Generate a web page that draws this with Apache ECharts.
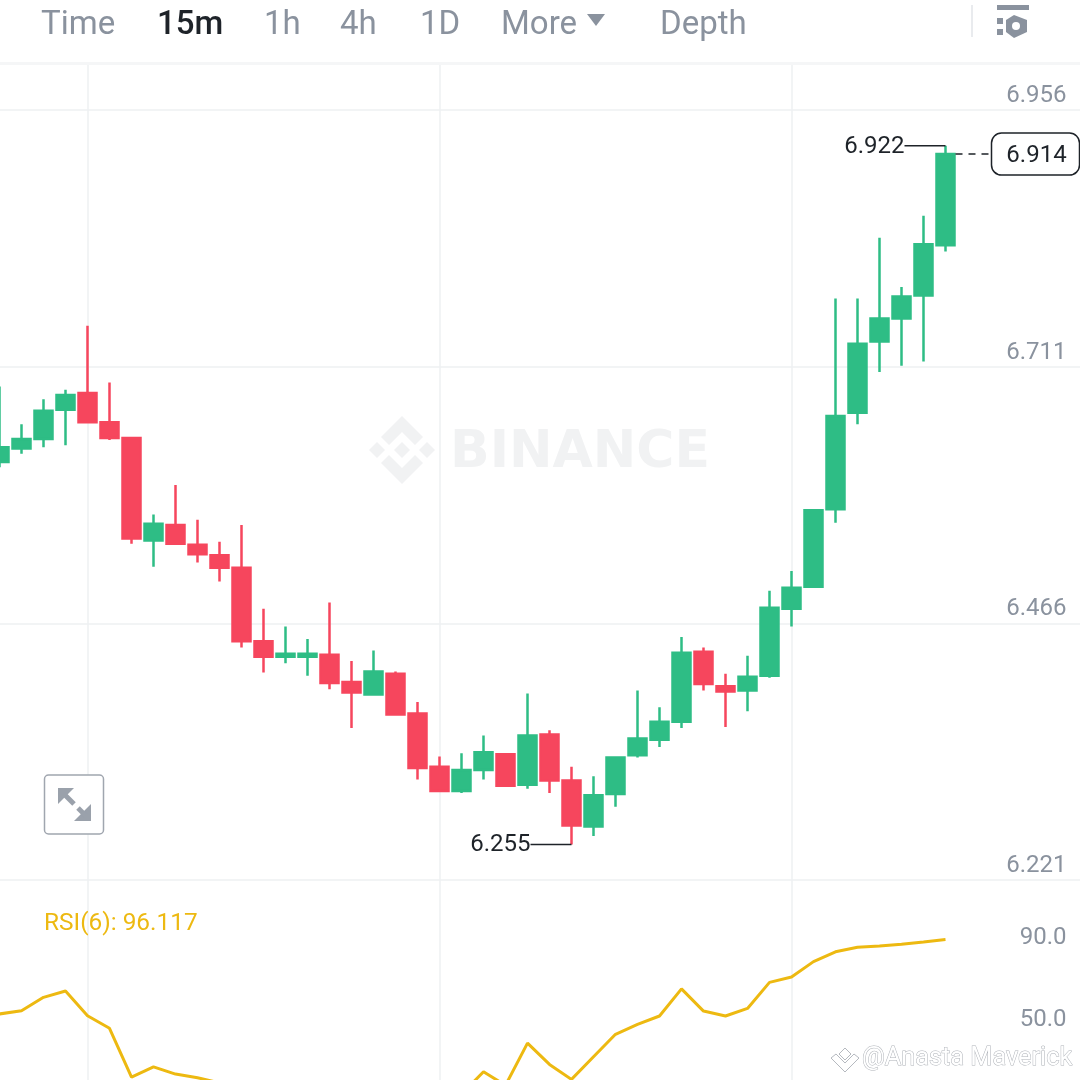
<!DOCTYPE html>
<html>
<head>
<meta charset="utf-8">
<title>15m chart</title>
<style>
  html, body { margin: 0; padding: 0; background: #fff; }
  #chart { width: 1080px; height: 1080px; }
</style>
<script src="https://cdn.jsdelivr.net/npm/echarts@6/dist/echarts.min.js"></script>
</head>
<body>
<div id="chart"></div>
<script>
// candles, left to right
const opens  = [6.620,6.633,6.642,6.670,6.686,6.658,6.643,6.545,6.560,6.541,6.531,6.519,6.449,6.434,6.434,6.436,6.410,6.398,6.418,6.380,6.329,6.306,6.326,6.341,6.312,6.360,6.316,6.272,6.303,6.340,6.355,6.372,6.439,6.406,6.402,6.416,6.480,6.501,6.575,6.667,6.735,6.757,6.779,6.827];
const closes = [6.634,6.642,6.669,6.684,6.658,6.643,6.547,6.561,6.542,6.532,6.519,6.449,6.434,6.437,6.437,6.409,6.400,6.420,6.379,6.328,6.306,6.326,6.343,6.311,6.359,6.316,6.273,6.302,6.338,6.356,6.372,6.438,6.408,6.401,6.415,6.481,6.500,6.574,6.664,6.733,6.757,6.778,6.828,6.914];
const lows   = [6.615,6.628,6.634,6.636,6.657,6.641,6.542,6.520,6.542,6.524,6.506,6.443,6.419,6.428,6.416,6.403,6.366,6.397,6.378,6.317,6.305,6.304,6.317,6.311,6.308,6.304,6.255,6.263,6.291,6.338,6.348,6.366,6.402,6.367,6.382,6.414,6.463,6.501,6.562,6.656,6.706,6.712,6.716,6.821];
const highs  = [6.692,6.656,6.680,6.689,6.750,6.696,6.644,6.570,6.598,6.565,6.544,6.560,6.480,6.463,6.451,6.486,6.430,6.440,6.420,6.391,6.339,6.342,6.359,6.342,6.399,6.364,6.329,6.320,6.338,6.402,6.386,6.453,6.443,6.418,6.435,6.497,6.516,6.574,6.776,6.776,6.834,6.787,6.855,6.922];
// RSI(6), the stretch that runs below the frame is a guess
const rsiValues = [59.8,61.4,67.9,71.0,58.9,52.8,29.0,34.0,30.5,28.7,26.2,18,17,19,19,16,15,20,18,14,13,20.7,31.6,25,45.6,35.2,27.9,38.9,49.9,54.7,58.8,72.0,61.2,58.8,62.5,75.2,77.8,85.3,90.1,92.3,92.9,93.8,94.9,96.1];

const priceTicks = [6.221, 6.466, 6.711, 6.956];
const rsiTicks = [50, 90];
// [candle index, price]
const highLowMarks = [[43, 6.922], [26, 6.255]];
const lastPrice = [[43, 6.914]];

const intervals = ['Time', '15m', '1h', '4h', '1D', 'More', 'Depth'];
const intervalX = [41, 157, 264, 340, 420, 501, 660];

// 44 candles plus empty room on the right
const categories = [];
for (let i = 0; i < 51; i++) {
  categories.push(String(i));
}
const candleData = opens.map((o, i) => [o, closes[i], lows[i], highs[i]]);

const UP = '#2EBD85', DOWN = '#F6465D', GRID = '#EEF0F2', LABEL = '#8A929E', DARK = '#1E2329', RSI = '#EDB911';
const FONT = 'Roboto';

function labelAxis(ticks, min, max, gridIndex) {
  return {
    type: 'value', gridIndex, min, max, position: 'right', scale: true,
    axisLine: { show: false },
    axisTick: { show: false, customValues: ticks },
    splitLine: { show: gridIndex === 0, lineStyle: { color: GRID, width: 1.5 } },
    axisLabel: {
      inside: true, margin: 33, color: LABEL, fontSize: 24, fontFamily: FONT,
      verticalAlign: 'bottom', padding: [0, 0, 2, 0], customValues: ticks,
      formatter: gridIndex === 0 ? (v) => v.toFixed(3) : (v) => v.toFixed(1)
    }
  };
}

function timeAxis(gridIndex) {
  return {
    type: 'category', gridIndex, data: categories, boundaryGap: false,
    axisLine: { show: false }, axisTick: { show: false }, axisLabel: { show: false },
    splitLine: {
      show: true, interval: (i) => (i - 4) % 16 === 0,
      lineStyle: { color: GRID, width: 1.5 }
    }
  };
}

function renderMarks(params, api) {
  const p = api.coord([api.value(0), api.value(1)]);
  return {
    type: 'group',
    children: [
      { type: 'line', shape: { x1: p[0] - 41, y1: p[1], x2: p[0], y2: p[1] }, style: { stroke: DARK, lineWidth: 1.5 } },
      { type: 'text', style: { x: p[0] - 41, y: p[1] + 1, text: api.value(1).toFixed(3), fill: DARK, font: '24px ' + FONT, textAlign: 'right', textVerticalAlign: 'middle' } }
    ]
  };
}

function renderLast(params, api) {
  const p = api.coord([api.value(0), api.value(1)]);
  return {
    type: 'group',
    children: [
      { type: 'line', shape: { x1: p[0] + 10, y1: p[1], x2: p[0] + 45, y2: p[1] }, style: { stroke: DARK, lineWidth: 1.5, lineDash: [7, 6] } },
      { type: 'rect', shape: { x: p[0] + 46, y: p[1] - 21, width: 88, height: 42, r: 10 }, style: { fill: '#fff', stroke: DARK, lineWidth: 1.5 } },
      { type: 'text', style: { x: p[0] + 91, y: p[1] + 2, text: api.value(1).toFixed(3), fill: DARK, font: '24px ' + FONT, textAlign: 'center', textVerticalAlign: 'middle' } }
    ]
  };
}

// header, watermark and buttons are page furniture, not data
const furniture = [];
intervals.forEach((t, i) => {
  furniture.push({
    type: 'text', z: 10, x: intervalX[i], y: 26,
    style: { text: t, fill: t === '15m' ? DARK : LABEL, font: (t === '15m' ? '500 ' : '') + '33px ' + FONT, textVerticalAlign: 'middle' }
  });
});
function poly(points, style, z) {
  return { type: 'polygon', z: z, shape: { points }, style };
}
function box(x, y, width, height, fill) {
  return { type: 'rect', z: 10, shape: { x, y, width, height }, style: { fill } };
}
const logoFill = { fill: '#F1F2F3' };
furniture.push(
  poly([[587, 14], [605, 14], [596, 26]], { fill: LABEL }, 10),
  box(0, 62, 1080, 3, '#F5F6F7'),
  box(971, 5, 2, 32, '#E9EBEE'),
  box(997, 5, 32, 5, '#8A929E'),
  box(997, 18, 6, 6, '#8A929E'),
  box(997, 29, 6, 6, '#8A929E'),
  poly([[1014, 15], [1027, 20], [1027, 32], [1014, 38], [1006, 32], [1006, 20]], { fill: '#8A929E' }, 10),
  { type: 'circle', z: 11, shape: { cx: 1016, cy: 26, r: 4 }, style: { fill: '#fff' } },
  // faint logo behind the candles
  poly([[402, 416], [423, 437], [415, 445], [402, 432], [389, 445], [381, 437]], logoFill, 1),
  poly([[402, 484], [423, 463], [415, 455], [402, 468], [389, 455], [381, 463]], logoFill, 1),
  poly([[402, 442], [410, 450], [402, 458], [394, 450]], logoFill, 1),
  poly([[377, 442], [385, 450], [377, 458], [369, 450]], logoFill, 1),
  poly([[427, 442], [435, 450], [427, 458], [419, 450]], logoFill, 1),
  { type: 'text', z: 1, x: 450, y: 453, style: { text: 'BINANCE', fill: '#F1F2F3', font: 'bold 52px "DejaVu Sans"', textVerticalAlign: 'middle' } },
  // expand button
  { type: 'rect', z: 10, shape: { x: 44.5, y: 775, width: 59, height: 59, r: 4 }, style: { fill: '#fff', stroke: '#A0A6AF', lineWidth: 1.5 } },
  poly([[58, 788], [74, 788], [58, 804]], { fill: '#9AA1AB' }, 11),
  poly([[91, 804], [91, 821], [74, 821]], { fill: '#9AA1AB' }, 11),
  { type: 'line', z: 11, shape: { x1: 64, y1: 794, x2: 74, y2: 804 }, style: { stroke: '#9AA1AB', lineWidth: 5 } },
  { type: 'line', z: 11, shape: { x1: 78, y1: 808, x2: 86, y2: 816 }, style: { stroke: '#9AA1AB', lineWidth: 5 } },
  { type: 'text', z: 10, x: 44, y: 924, style: { text: 'RSI(6): 96.117', fill: RSI, font: '24.4px ' + FONT, textVerticalAlign: 'middle' } },
  // repost credit bottom right
  poly([[845, 1048], [851, 1054], [845, 1060], [839, 1054]], { fill: '#fff', stroke: '#B5B9BF', lineWidth: 1 }, 12),
  poly([[836, 1054], [845, 1063], [854, 1054], [859, 1058], [845, 1072], [831, 1058]], { fill: '#fff', stroke: '#B5B9BF', lineWidth: 1 }, 12),
  { type: 'text', z: 12, x: 862, y: 1059, style: { text: '@Anasta Maverick', fill: '#fff', stroke: '#AEB2B8', lineWidth: 1, font: '25.3px ' + FONT, textVerticalAlign: 'middle' } }
);

const chart = echarts.init(document.getElementById('chart'));
chart.setOption({
  animation: false,
  backgroundColor: '#fff',
  graphic: { elements: furniture },
  grid: [
    { left: -0.5, width: 1100, top: 65, height: 815, outerBoundsMode: 'none' },
    { left: -0.5, width: 1100, top: 880, height: 200, outerBoundsMode: 'none' }
  ],
  xAxis: [timeAxis(0), timeAxis(1)],
  yAxis: [
    labelAxis(priceTicks, 6.221, 6.999, 0),
    labelAxis(rsiTicks, 27.6, 125.1, 1)
  ],
  series: [
    {
      type: 'candlestick', xAxisIndex: 0, yAxisIndex: 0, data: candleData, barWidth: 18, clip: false,
      itemStyle: { color: UP, color0: DOWN, borderColor: UP, borderColor0: DOWN, borderWidth: 2.5 }
    },
    { type: 'custom', xAxisIndex: 0, yAxisIndex: 0, data: highLowMarks, encode: { x: 0, y: 1 }, renderItem: renderMarks, z: 5 },
    { type: 'custom', xAxisIndex: 0, yAxisIndex: 0, data: lastPrice, encode: { x: 0, y: 1 }, renderItem: renderLast, z: 5 },
    {
      type: 'line', xAxisIndex: 1, yAxisIndex: 1, data: rsiValues, symbol: 'none', smooth: false,
      lineStyle: { color: RSI, width: 3 }
    }
  ]
});
</script>
</body>
</html>
